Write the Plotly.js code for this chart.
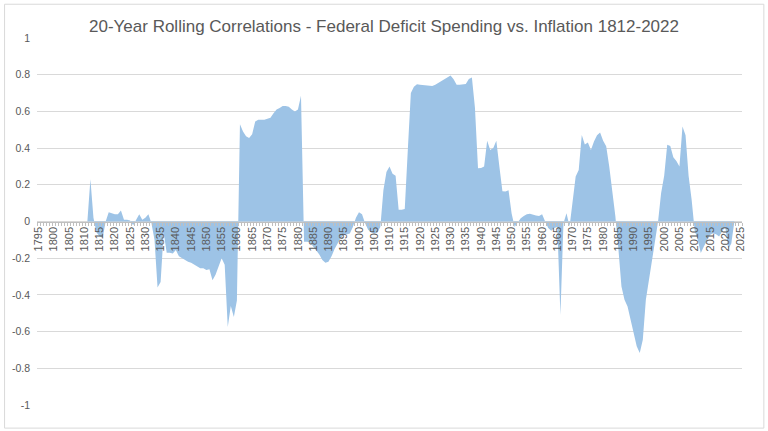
<!DOCTYPE html>
<html>
<head>
<meta charset="utf-8">
<script src="https://cdn.plot.ly/plotly-3.0.1.min.js"></script>
<style>html,body{margin:0;padding:0;background:#fff;}#chart{width:768px;height:431px;}</style>
</head>
<body>
<div id="chart"></div>
<script>
const years = [
  1811,1812,1813,1814,1815,1816,1817,1818,1819,1820,
  1821,1822,1823,1824,1825,1826,1827,1828,1829,1830,
  1831,1832,1833,1834,1835,1836,1837,1838,1839,1840,
  1841,1842,1843,1844,1845,1846,1847,1848,1849,1850,
  1851,1852,1853,1854,1855,1856,1857,1858,1859,1860,
  1861,1862,1863,1864,1865,1866,1867,1868,1869,1870,
  1871,1872,1873,1874,1875,1876,1877,1878,1879,1880,
  1881,1882,1883,1884,1885,1886,1887,1888,1889,1890,
  1891,1892,1893,1894,1895,1896,1897,1898,1899,1900,
  1901,1902,1903,1904,1905,1906,1907,1908,1909,1910,
  1911,1912,1913,1914,1915,1916,1917,1918,1919,1920,
  1921,1922,1923,1924,1925,1926,1927,1928,1929,1930,
  1931,1932,1933,1934,1935,1936,1937,1938,1939,1940,
  1941,1942,1943,1944,1945,1946,1947,1948,1949,1950,
  1951,1952,1953,1954,1955,1956,1957,1958,1959,1960,
  1961,1962,1963,1964,1965,1966,1967,1968,1969,1970,
  1971,1972,1973,1974,1975,1976,1977,1978,1979,1980,
  1981,1982,1983,1984,1985,1986,1987,1988,1989,1990,
  1991,1992,1993,1994,1995,1996,1997,1998,1999,2000,
  2001,2002,2003,2004,2005,2006,2007,2008,2009,2010,
  2011,2012,2013,2014,2015,2016,2017,2018,2019,2020,
  2021,2022,2023
];
const correlation = [
  0.0, 0.23, 0.02, -0.06, -0.08, -0.09, 0.0, 0.05, 0.045, 0.04,
  0.04, 0.06, 0.01, 0.01, 0.005, -0.02, 0.01, 0.04, 0.01, 0.02,
  0.04, -0.01, -0.1, -0.36, -0.33, -0.06, -0.17, -0.17, -0.175, -0.155,
  -0.19, -0.2, -0.21, -0.22, -0.225, -0.236, -0.245, -0.255, -0.255, -0.264,
  -0.26, -0.32, -0.29, -0.245, -0.2, -0.236, -0.575, -0.46, -0.52, -0.43,
  0.53, 0.49, 0.465, 0.455, 0.475, 0.545, 0.554, 0.555, 0.555, 0.56,
  0.565, 0.59, 0.61, 0.618, 0.63, 0.63, 0.625, 0.61, 0.6, 0.61,
  0.685, -0.11, -0.11, -0.115, -0.135, -0.16, -0.18, -0.21, -0.225, -0.22,
  -0.19, -0.15, -0.12, -0.09, -0.075, -0.07, -0.065, -0.03, 0.02, 0.05,
  0.04, -0.01, -0.045, -0.06, -0.065, -0.06, -0.03, 0.17, 0.27, 0.3,
  0.26, 0.25, 0.064, 0.064, 0.068, 0.39, 0.7, 0.735, 0.748, 0.745,
  0.743, 0.745, 0.743, 0.738, 0.745, 0.755, 0.763, 0.772, 0.785, 0.796,
  0.775, 0.745, 0.745, 0.748, 0.75, 0.777, 0.785, 0.62, 0.29, 0.292,
  0.3, 0.44, 0.39, 0.4, 0.44, 0.3, 0.165, 0.163, 0.17, 0.045,
  -0.03, -0.005, 0.018, 0.03, 0.04, 0.042, 0.036, 0.033, 0.03, 0.04,
  0.0, -0.036, -0.05, -0.036, -0.03, -0.51, -0.01, 0.045, -0.027, 0.12,
  0.245, 0.28, 0.472, 0.42, 0.43, 0.39, 0.436, 0.47, 0.485, 0.44,
  0.41, 0.3, 0.17, 0.03, -0.15, -0.354, -0.427, -0.463, -0.536, -0.608,
  -0.68, -0.717, -0.645, -0.427, -0.318, -0.2, -0.1, 0.0, 0.155, 0.25,
  0.418, 0.412, 0.35, 0.33, 0.3, 0.518, 0.47, 0.25, 0.118, -0.05,
  -0.1, -0.172, -0.136, -0.1, -0.073, -0.064, -0.07, -0.082, -0.055, -0.027,
  -0.15, -0.12, 0.0
];
const xTickYears = [1795,1800,1805,1810,1815,1820,1825,1830,1835,1840,1845,1850,1855,1860,1865,1870,1875,1880,1885,1890,1895,1900,1905,1910,1915,1920,1925,1930,1935,1940,1945,1950,1955,1960,1965,1970,1975,1980,1985,1990,1995,2000,2005,2010,2015,2020,2025];
const yTickVals = [-1,-0.8,-0.6,-0.4,-0.2,0,0.2,0.4,0.6,0.8,1];
const yTickText = ['-1','-0.8','-0.6','-0.4','-0.2','0','0.2','0.4','0.6','0.8','1'];
const chartTitle = '20-Year Rolling Correlations - Federal Deficit Spending vs. Inflation 1812-2022';

const FONT = '"Liberation Sans", Arial, sans-serif';
const trace = {
  type: 'scatter', mode: 'lines', x: years, y: correlation,
  fill: 'tozeroy', fillcolor: '#9dc3e6',
  line: {width: 0, color: '#9dc3e6'}, hoverinfo: 'x+y'
};
const layout = {
  width: 768, height: 431,
  margin: {l: 37, r: 26, t: 38, b: 26},
  paper_bgcolor: '#ffffff', plot_bgcolor: '#ffffff',
  showlegend: false,
  title: {text: chartTitle, x: 0.5, xanchor: 'center', y: 0.94, yanchor: 'middle',
          font: {family: FONT, size: 17, color: '#595959'}},
  xaxis: {
    range: [1794.5, 2025.5], anchor: 'free', position: 0.5,
    tickmode: 'array', tickvals: xTickYears, ticktext: xTickYears.map(String),
    tickangle: -90, tickfont: {family: FONT, size: 11, color: '#595959'},
    ticks: '', showgrid: false, zeroline: false,
    showline: true, linecolor: '#bfbfbf', linewidth: 1,
    minor: {tick0: 1794.5, dtick: 1, ticks: 'outside', ticklen: 3, tickcolor: '#bfbfbf', showgrid: false},
    layer: 'above traces', fixedrange: true
  },
  yaxis: {
    range: [-1, 1], tickmode: 'array', tickvals: yTickVals, ticktext: yTickText,
    tickfont: {family: FONT, size: 10.5, color: '#595959'},
    showgrid: true, gridcolor: '#d9d9d9', gridwidth: 1,
    zeroline: false, showline: false, ticks: '', ticklabelstandoff: 6,
    fixedrange: true
  },
  shapes: [
    {type: 'rect', xref: 'paper', yref: 'paper', x0: -0.046, x1: 1.031, y0: -0.063, y1: 1.092,
     line: {color: '#d9d9d9', width: 1}, fillcolor: 'rgba(0,0,0,0)', layer: 'below'}
  ]
};
Plotly.newPlot('chart', [trace], layout, {staticPlot: true, displayModeBar: false});
</script>
</body>
</html>
